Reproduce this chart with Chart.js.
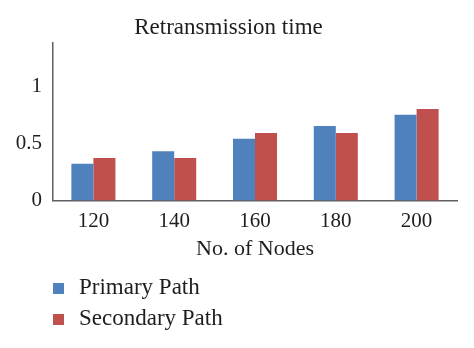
<!DOCTYPE html>
<html>
<head>
<meta charset="utf-8">
<script src="https://cdn.jsdelivr.net/npm/chart.js@4"></script>
<style>
html,body{margin:0;padding:0;background:#fff;}
#wrap{width:474px;height:348px;position:relative;}
</style>
</head>
<body>
<div id="wrap"><canvas id="c" width="474" height="348"></canvas></div>
<script>
const categories = ['120', '140', '160', '180', '200'];
const primaryPath = [0.32, 0.43, 0.54, 0.65, 0.75];
const secondaryPath = [0.37, 0.37, 0.59, 0.59, 0.80];
const yTicks = [0, 0.5, 1];
const seriesNames = ['Primary Path', 'Secondary Path'];
const seriesColors = ['#4F81BD', '#C0504D'];

const FONT = '"Liberation Serif", "DejaVu Serif", serif';
const AXIS = '#5f5f5f';
const TEXT = '#1e1e1e';

const legendPlugin = {
  id: 'sideLegend',
  afterDraw(chart) {
    const ctx = chart.ctx;
    ctx.save();
    ctx.font = '23px ' + FONT;
    ctx.textBaseline = 'middle';
    chart.data.datasets.forEach((ds, i) => {
      const y = 288.5 + i * 31;
      ctx.fillStyle = ds.backgroundColor;
      ctx.fillRect(53, y - 5.5, 11, 11);
      ctx.fillStyle = TEXT;
      ctx.fillText(ds.label, 79, y - 1);
    });
    ctx.restore();
  }
};

new Chart(document.getElementById('c'), {
  type: 'bar',
  data: {
    labels: categories,
    datasets: [
      { label: seriesNames[0], data: primaryPath, backgroundColor: seriesColors[0] },
      { label: seriesNames[1], data: secondaryPath, backgroundColor: seriesColors[1] }
    ]
  },
  options: {
    responsive: false,
    animation: false,
    devicePixelRatio: 1,
    layout: { padding: { left: 0, right: 17, top: 0, bottom: 86 } },
    datasets: { bar: { categoryPercentage: 0.545, barPercentage: 1.0 } },
    plugins: {
      legend: { display: false },
      tooltip: { enabled: false },
      title: {
        display: true,
        text: 'Retransmission time',
        color: TEXT,
        font: { family: FONT, size: 23, weight: 'normal' },
        padding: { top: 14, bottom: 1 }
      }
    },
    scales: {
      x: {
        grid: { display: false, drawTicks: false },
        border: { display: true, color: AXIS, width: 1.5 },
        ticks: { color: TEXT, font: { family: FONT, size: 21 }, padding: 8 },
        title: {
          display: true, text: 'No. of Nodes', color: TEXT,
          font: { family: FONT, size: 22 }, padding: { top: -6, bottom: 0 }
        }
      },
      y: {
        min: 0, max: 1.38,
        afterFit(scale) { scale.width = 53; },
        afterBuildTicks(scale) { scale.ticks = yTicks.map(v => ({ value: v })); },
        grid: { display: false, drawTicks: false },
        border: { display: true, color: AXIS, width: 1.5 },
        ticks: {
          color: TEXT, font: { family: FONT, size: 21 }, padding: 11,
          callback: v => String(v)
        }
      }
    }
  },
  plugins: [legendPlugin]
});
</script>
</body>
</html>
